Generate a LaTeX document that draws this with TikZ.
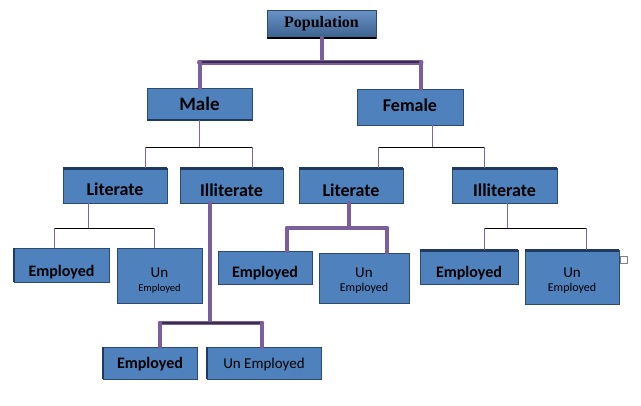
\documentclass[tikz,border=0pt]{standalone}
\usepackage{fontspec}
\setmainfont{Carlito}
\newfontfamily\popfont{Liberation Serif}
\definecolor{boxfill}{HTML}{4F81BD}
\definecolor{boxline}{HTML}{2C4A70}
\definecolor{topbar}{HTML}{1F3A60}
\definecolor{purp}{HTML}{8064A2}
\definecolor{purpthick}{HTML}{7B5E9E}
\definecolor{bardark}{HTML}{3A2F4A}
\begin{document}
\begin{tikzpicture}[x=1pt,y=-1pt,
  box/.style={fill=boxfill, draw=boxline, line width=1pt, inner sep=0pt, outer sep=0pt},
  lblbig/.style={font=\fontsize{18}{19}\selectfont\bfseries, text=black},
  lblemp/.style={font=\fontsize{16}{17}\selectfont\bfseries, text=black},
  lblun/.style={font=\fontsize{15}{16}\selectfont, text=black, align=center},
  thinv/.style={draw=purp, line width=1pt},
  thinh/.style={draw=black, line width=1pt},
  thickv/.style={draw=purpthick, line width=4pt, line cap=round},
  topedge/.style={draw=topbar, line width=3pt},
]
\useasboundingbox (0,0) rectangle (641,405);
\fill[white] (0,0) rectangle (641,405);

% boxes
\node[box, minimum width=109pt, minimum height=28pt, top color=boxfill!85!white, bottom color=boxfill!75!black,
  label={[font=\fontsize{16}{17}\selectfont\popfont\bfseries]center:Population}] (pop) at (321.5,24) {};
\node[box, minimum width=105pt, minimum height=32pt, label={[lblbig,font=\fontsize{19}{20}\selectfont\bfseries]center:Male}] (male) at (199.5,104) {};
\node[box, minimum width=106pt, minimum height=36pt, label={[lblbig,yshift=2pt]center:Female}] (female) at (410,107) {};

\node[box, minimum width=104pt, minimum height=35pt, label={[lblbig,yshift=-4pt]center:Literate}] (mlit) at (115,185.5) {};
\node[box, minimum width=103pt, minimum height=35pt, label={[lblbig,yshift=-5pt]center:Illiterate}] (mill) at (231.5,185.5) {};
\node[box, minimum width=104pt, minimum height=35pt, label={[lblbig,yshift=-5pt]center:Literate}] (flit) at (351,185.5) {};
\node[box, minimum width=105pt, minimum height=35pt, label={[lblbig,yshift=-5pt]center:Illiterate}] (fill) at (504.5,185.5) {};

\node[box, minimum width=95pt, minimum height=34pt, label={[lblemp,yshift=-7pt]center:Employed}] (mlE) at (61.5,265) {};
\node[box, minimum width=85pt, minimum height=55pt,
  label={[lblun,yshift=-5pt]center:Un\\[-2pt]{\fontsize{10.5}{11}\selectfont Employed}}] (mlU) at (159.5,275.5) {};
\node[box, minimum width=94pt, minimum height=33pt, label={[lblemp,yshift=-6pt]center:Employed}] (flE) at (265,267.5) {};
\node[box, minimum width=90pt, minimum height=50pt,
  label={[lblun,yshift=-3pt]center:Un\\[-2pt]{\fontsize{12}{13}\selectfont Employed}}] (flU) at (364,278) {};
\node[box, minimum width=98pt, minimum height=34pt, label={[lblemp,yshift=-6pt]center:Employed}] (fiE) at (469,267) {};
\node[box, minimum width=94pt, minimum height=54pt,
  label={[lblun,yshift=-4pt]center:Un\\[-2pt]{\fontsize{12}{13}\selectfont Employed}}] (fiU) at (572,277) {};

\node[box, minimum width=94pt, minimum height=32pt, label={[lblemp,yshift=-1pt]center:Employed}] (miE) at (150,363) {};
\node[box, minimum width=114pt, minimum height=32pt, label={[lblun,yshift=-1pt]center:Un Employed}] (miU) at (264,363) {};

% heavier edges
\draw[topedge] (mlit.north west) -- (mlit.north east);
\draw[topedge] (mill.north west) -- (mill.north east);
\draw[topedge] (flit.north west) -- (flit.north east);
\draw[topedge] (fill.north west) -- (fill.north east);
\draw[topedge] (fiE.north west) -- (fiE.north east);
\draw[topedge] (fiU.north west) -- (fiU.north east);
\draw[draw=black, line width=2.5pt] (pop.south west) -- (pop.south east);
\draw[draw=topbar, line width=2.5pt] (male.south west) -- (male.south east);
\draw[draw=topbar, line width=2pt] (mlE.north west) -- (mlE.south west);
\draw[draw=topbar, line width=2pt] (miE.north west) -- (miE.south west);
\draw[draw=topbar, line width=2pt] (miU.north west) -- (miU.south west);

% Population -> Male / Female
\coordinate (pj) at (321.5,62);
\coordinate (pL) at (199.5,62);
\coordinate (pR) at (421,62);
\draw[thickv] (pop.south) -- (pj);
\draw[draw=purpthick, line width=5pt, line cap=round] (pL) -- (pR);
\draw[draw=bardark, line width=2pt] (pL) -- (pR);
\draw[thickv] (pL) -- (pL |- male.north);
\draw[thickv] (pR) -- (pR |- female.north);

% Male -> Literate / Illiterate
\coordinate (mj) at (199.5,147);
\coordinate (mL) at (145,147);
\coordinate (mR) at (252,147);
\draw[thinv] (male.south) -- (mj);
\draw[thinh] (mL) -- (mR);
\draw[thinv] (mL) -- (mL |- mlit.north);
\draw[thinv] (mR) -- (mR |- mill.north);

% Female -> Literate / Illiterate
\coordinate (fj) at (432,147);
\coordinate (fL) at (378,147);
\coordinate (fR) at (484,147);
\draw[thinv] (female.south -| fj) -- (fj);
\draw[thinh] (fL) -- (fR);
\draw[thinv] (fL) -- (fL |- flit.north);
\draw[thinv] (fR) -- (fR |- fill.north);

% Male Literate -> Employed / Un Employed
\coordinate (a0) at (88,228);
\coordinate (aL) at (54,228);
\coordinate (aR) at (154,228);
\draw[thinv] (mlit.south -| a0) -- (a0);
\draw[thinh] (aL) -- (aR);
\draw[thinv] (aL) -- (aL |- mlE.north);
\draw[thinv] (aR) -- (aR |- mlU.north);

% Male Illiterate -> Employed / Un Employed (bottom)
\coordinate (b0) at (210,323);
\coordinate (bL) at (160,323);
\coordinate (bR) at (262,323);
\draw[thickv] (mill.south -| b0) -- (b0);
\draw[draw=purpthick, line width=4.5pt, line cap=round] (bL) -- (bR);
\draw[draw=bardark, line width=1.5pt] (bL) -- (bR);
\draw[thickv] (bL) -- (bL |- miE.north);
\draw[thickv] (bR) -- (bR |- miU.north);

% Female Literate -> Employed / Un Employed
\coordinate (c0) at (349,228);
\coordinate (cL) at (287,228);
\coordinate (cR) at (387,228);
\draw[thickv] (flit.south -| c0) -- (c0);
\draw[thickv] (cL) -- (cR);
\draw[thickv] (cL) -- (cL |- flE.north);
\draw[thickv] (cR) -- (cR |- flU.north);

% Female Illiterate -> Employed / Un Employed
\coordinate (d0) at (507,228);
\coordinate (dL) at (484,228);
\coordinate (dR) at (586,228);
\draw[thinv] (fill.south -| d0) -- (d0);
\draw[thinh] (dL) -- (dR);
\draw[thinv] (dL) -- (dL |- fiE.north);
\draw[thinv] (dR) -- (dR |- fiU.north);

% small handle square
\draw[gray, line width=0.8pt, fill=white] (620,256) rectangle (627,263);
\end{tikzpicture}
\end{document}
